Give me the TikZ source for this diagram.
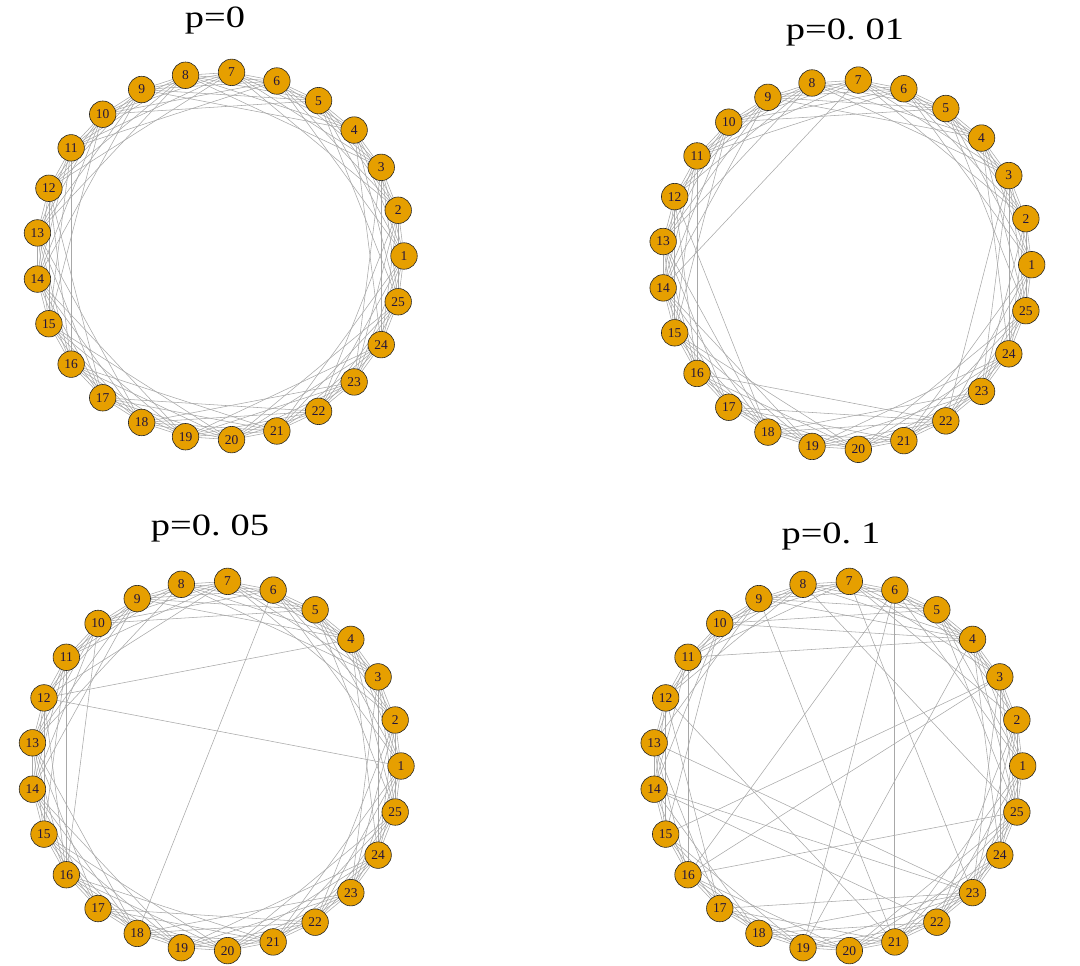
\documentclass[tikz,border=0pt]{standalone}
\usepackage{fontspec}
\usepackage{graphicx}
\setmainfont{Liberation Serif}
\usetikzlibrary{backgrounds}
\definecolor{vfill}{RGB}{230,159,0}
\definecolor{ecol}{RGB}{168,168,168}
\definecolor{lcol}{RGB}{35,20,60}
\tikzset{
  vtx/.style={circle,draw=black!85,line width=0.6pt,fill=vfill,minimum size=26.5pt,inner sep=0pt,
              font=\fontsize{13.5}{13.5}\selectfont,text=lcol},
  lnk/.style={draw=ecol,line width=0.55pt},
  ttl/.style={anchor=base,inner sep=0pt,font=\fontsize{31}{31}\selectfont}
}
\newcommand\rmedge[3]{\expandafter\def\csname rmE#1-#2-#3\endcsname{}}
\newcommand\ringpanel[4]{% prefix, cx, cy, r
  \foreach \i in {1,...,25}{
    \node[vtx] (#1\i) at ({#2+#4*cos((\i-1)*14.4)},{#3-#4*sin((\i-1)*14.4)}) {\i};
  }
  \begin{pgfonlayer}{background}
  \foreach \i in {1,...,25}{
    \foreach \d in {1,...,5}{
      \pgfmathtruncatemacro\j{mod(\i+\d-1,25)+1}
      \ifcsname rmE#1-\i-\j\endcsname\else\draw[lnk] (#1\i) -- (#1\j);\fi
    }
  }
  \end{pgfonlayer}
}
\newcommand\extra[2]{%
  \begin{pgfonlayer}{background}
  \foreach \u/\v in {#2}{\draw[lnk] (#1\u) -- (#1\v);}
  \end{pgfonlayer}
}
% removed lattice edges (rewired)
\rmedge{b}{7}{12}\rmedge{b}{16}{21}\rmedge{b}{22}{2}\rmedge{b}{12}{17}
\rmedge{c}{8}{12}\rmedge{c}{12}{17}\rmedge{c}{6}{11}\rmedge{c}{10}{15}
\rmedge{d}{6}{11}\rmedge{d}{9}{14}\rmedge{d}{6}{10}\rmedge{d}{2}{6}
\rmedge{d}{11}{15}\rmedge{d}{10}{13}\rmedge{d}{13}{18}\rmedge{d}{14}{19}
\rmedge{d}{14}{17}\rmedge{d}{15}{20}\rmedge{d}{16}{21}\rmedge{d}{17}{22}
\rmedge{d}{19}{24}\rmedge{d}{7}{12}\rmedge{d}{8}{13}\rmedge{d}{12}{16}
\rmedge{d}{3}{8}
\begin{document}
\begin{tikzpicture}[x=1pt,y=-1pt]
\useasboundingbox (0,0) rectangle (1080,966);
% titles
\node[ttl] (ta) at (215,28) {\scalebox{1.24}[1]{p=0}};
\node[ttl] (tb) at (845,40) {\scalebox{1.24}[1]{p=0.\hspace{8pt}01}};
\node[ttl] (tc) at (210,535) {\scalebox{1.24}[1]{p=0.\hspace{8pt}05}};
\node[ttl] (td) at (831,543) {\scalebox{1.24}[1]{p=0.\hspace{8pt}1}};
% panels
\ringpanel{a}{220}{256}{184}
\ringpanel{b}{846.7}{264.7}{185}
\extra{b}{7/14,16/22,3/22,12/18}
\ringpanel{c}{216}{766}{185}
\extra{c}{12/4,12/1,6/18,10/16}
\ringpanel{d}{837.7}{766}{185}
\extra{d}{9/21,6/19,6/16,11/4,10/4,13/23,14/23,14/22,15/3,16/25,17/23,19/4,7/23,8/25,12/21,3/16}
\begin{pgfonlayer}{background}
\draw[lnk,line width=1pt] (d6) -- (d21);
\end{pgfonlayer}
\end{tikzpicture}
\end{document}
